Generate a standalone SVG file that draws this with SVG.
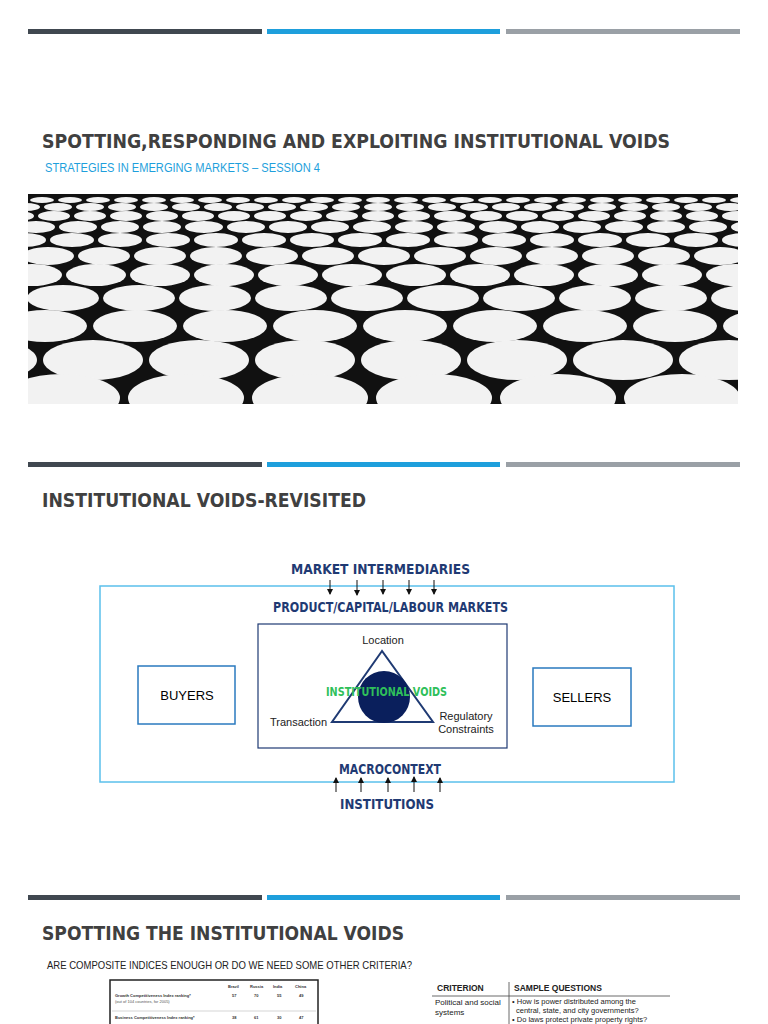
<svg xmlns="http://www.w3.org/2000/svg" width="768" height="1024" viewBox="0 0 768 1024">
<style>
.t{font-family:"Liberation Sans",Arial,sans-serif}
.h{font-family:"DejaVu Sans Condensed","Liberation Sans",sans-serif;font-weight:bold;fill:#404040;font-size:20px}
.nb{font-family:"DejaVu Sans Condensed","Liberation Sans",sans-serif;font-weight:bold;fill:#1f3a73;font-size:14px}
.sm{font-family:"Liberation Sans",Arial,sans-serif;font-size:11px;fill:#222}
.ar{stroke:#111;stroke-width:1;marker-end:url(#a)}
</style>
<defs>
<marker id="a" markerWidth="6" markerHeight="6" refX="5" refY="3" orient="auto"><path d="M0,0L6,3L0,6z" fill="#111"/></marker>
<pattern id="p1" patternUnits="userSpaceOnUse" x="0" y="196" width="28" height="10"><ellipse cx="14" cy="4" rx="12" ry="3" fill="#f2f2f2"/></pattern>
<pattern id="p2" patternUnits="userSpaceOnUse" x="10" y="202" width="32" height="12"><ellipse cx="16" cy="5" rx="14" ry="4" fill="#f2f2f2"/></pattern>
<pattern id="p3" patternUnits="userSpaceOnUse" x="0" y="210" width="36" height="14"><ellipse cx="18" cy="6" rx="16" ry="5" fill="#f2f2f2"/></pattern>
<pattern id="p4" patternUnits="userSpaceOnUse" x="15" y="220" width="42" height="16"><ellipse cx="21" cy="7" rx="19" ry="6" fill="#f2f2f2"/></pattern>
<pattern id="p5" patternUnits="userSpaceOnUse" x="0" y="232" width="48" height="18"><ellipse cx="24" cy="8" rx="22" ry="7" fill="#f2f2f2"/></pattern>
<pattern id="p6" patternUnits="userSpaceOnUse" x="20" y="246" width="56" height="22"><ellipse cx="28" cy="10" rx="26" ry="9" fill="#f2f2f2"/></pattern>
<pattern id="p7" patternUnits="userSpaceOnUse" x="0" y="263" width="64" height="26"><ellipse cx="32" cy="12" rx="30" ry="11" fill="#f2f2f2"/></pattern>
<pattern id="p8" patternUnits="userSpaceOnUse" x="25" y="284" width="76" height="30"><ellipse cx="38" cy="14" rx="36" ry="13" fill="#f2f2f2"/></pattern>
<pattern id="p9" patternUnits="userSpaceOnUse" x="0" y="309" width="90" height="36"><ellipse cx="45" cy="17" rx="42" ry="16" fill="#f2f2f2"/></pattern>
<pattern id="p10" patternUnits="userSpaceOnUse" x="40" y="339" width="106" height="44"><ellipse cx="53" cy="21" rx="50" ry="20" fill="#f2f2f2"/></pattern>
<pattern id="p11" patternUnits="userSpaceOnUse" x="0" y="373" width="124" height="52"><ellipse cx="62" cy="25" rx="58" ry="24" fill="#f2f2f2"/></pattern>
<clipPath id="c"><rect x="28" y="194" width="710" height="210"/></clipPath>
</defs>
<rect width="768" height="1024" fill="#fff"/>
<g id="bars1"><rect x="28" y="29" width="234" height="5" fill="#404850"/><rect x="267" y="29" width="233" height="5" fill="#1e9fdc"/><rect x="506" y="29" width="234" height="5" fill="#9aa0a6"/></g>
<text class="h" x="42" y="148" textLength="628" lengthAdjust="spacingAndGlyphs">SPOTTING,RESPONDING AND EXPLOITING INSTITUTIONAL VOIDS</text>
<text class="t" x="45" y="172" font-size="12" fill="#1e9fdc" textLength="275" lengthAdjust="spacingAndGlyphs">STRATEGIES IN EMERGING MARKETS – SESSION 4</text>
<g id="photo" clip-path="url(#c)">
<rect x="28" y="194" width="710" height="210" fill="#111"/>
<rect x="28" y="196" width="710" height="10" fill="url(#p1)"/>
<rect x="28" y="202" width="710" height="12" fill="url(#p2)"/>
<rect x="28" y="210" width="710" height="14" fill="url(#p3)"/>
<rect x="28" y="220" width="710" height="16" fill="url(#p4)"/>
<rect x="28" y="232" width="710" height="18" fill="url(#p5)"/>
<rect x="28" y="246" width="710" height="22" fill="url(#p6)"/>
<rect x="28" y="263" width="710" height="26" fill="url(#p7)"/>
<rect x="28" y="284" width="710" height="30" fill="url(#p8)"/>
<rect x="28" y="309" width="710" height="36" fill="url(#p9)"/>
<rect x="28" y="339" width="710" height="44" fill="url(#p10)"/>
<rect x="28" y="373" width="710" height="52" fill="url(#p11)"/>
</g>
<g id="bars2"><rect x="28" y="462" width="234" height="5" fill="#404850"/><rect x="267" y="462" width="233" height="5" fill="#1e9fdc"/><rect x="506" y="462" width="234" height="5" fill="#9aa0a6"/></g>
<text class="h" x="42" y="507" textLength="324" lengthAdjust="spacingAndGlyphs">INSTITUTIONAL VOIDS-REVISITED</text>
<g id="outer"><rect x="100" y="586" width="574" height="196" fill="none" stroke="#5bc0eb" stroke-width="1.5"/></g>
<g id="mi"><text class="nb" x="291" y="574" textLength="179" lengthAdjust="spacingAndGlyphs">MARKET INTERMEDIARIES</text></g>
<g id="pm"><text class="nb" x="273" y="612" font-size="13" textLength="235" lengthAdjust="spacingAndGlyphs">PRODUCT/CAPITAL/LABOUR MARKETS</text></g>
<g id="buyers"><rect x="138" y="666" width="97" height="58" fill="none" stroke="#2a7abf" stroke-width="1.5"/><text class="t" x="187" y="700" text-anchor="middle" font-size="13">BUYERS</text></g>
<g id="sellers"><rect x="533" y="668" width="98" height="58" fill="none" stroke="#2a7abf" stroke-width="1.5"/><text class="t" x="582" y="702" text-anchor="middle" font-size="13">SELLERS</text></g>
<g id="center">
<rect x="258" y="624" width="249" height="124" fill="none" stroke="#1f3a73" stroke-width="1.2"/>
<text class="sm" x="383" y="644" text-anchor="middle">Location</text>
<polygon points="382,651 332,722 390,722 433,722" fill="none" stroke="#1f3a73" stroke-width="2"/>
<circle cx="384" cy="697" r="26" fill="#0a1f5c"/>
<text x="326" y="696" font-family="DejaVu Sans Condensed,sans-serif" font-weight="bold" font-size="11.5" fill="#2fbf5a" textLength="121" lengthAdjust="spacingAndGlyphs">INSTITUTIONAL VOIDS</text>
<text class="sm" x="270" y="726">Transaction</text>
<text class="sm" x="466" y="720" text-anchor="middle">Regulatory</text>
<text class="sm" x="466" y="733" text-anchor="middle">Constraints</text>
</g>
<g id="macro"><text class="nb" x="339" y="774" font-size="13" textLength="102" lengthAdjust="spacingAndGlyphs">MACROCONTEXT</text></g>
<g id="inst"><text class="nb" x="340" y="809" textLength="94" lengthAdjust="spacingAndGlyphs">INSTITUTIONS</text></g>
<g id="connectors">
<line class="ar" x1="330" y1="580" x2="330" y2="594"/>
<line class="ar" x1="357" y1="580" x2="357" y2="595"/>
<line class="ar" x1="383" y1="580" x2="383" y2="594"/>
<line class="ar" x1="409" y1="580" x2="409" y2="594"/>
<line class="ar" x1="434" y1="580" x2="434" y2="594"/>
<line class="ar" x1="336" y1="792" x2="336" y2="778"/>
<line class="ar" x1="361" y1="792" x2="361" y2="778"/>
<line class="ar" x1="388" y1="792" x2="388" y2="778"/>
<line class="ar" x1="414" y1="792" x2="414" y2="777"/>
<line class="ar" x1="440" y1="792" x2="440" y2="778"/>
</g>
<g id="bars3"><rect x="28" y="895" width="234" height="5" fill="#404850"/><rect x="267" y="895" width="233" height="5" fill="#1e9fdc"/><rect x="506" y="895" width="234" height="5" fill="#9aa0a6"/></g>
<text class="h" x="42" y="940" textLength="362" lengthAdjust="spacingAndGlyphs">SPOTTING THE INSTITUTIONAL VOIDS</text>
<text class="t" x="47" y="969" font-size="11" fill="#222" textLength="365" lengthAdjust="spacingAndGlyphs">ARE COMPOSITE INDICES ENOUGH OR DO WE NEED SOME OTHER CRITERIA?</text>
<g id="tbl1">
<rect x="110" y="980" width="208" height="50" fill="#fff" stroke="#222" stroke-width="1.5"/>
<line x1="112" y1="1011" x2="316" y2="1011" stroke="#bbb" stroke-width="0.6"/>
<g class="t" font-size="4" fill="#333" font-weight="bold">
<text x="228" y="988">Brazil</text><text x="250" y="988">Russia</text><text x="273" y="988">India</text><text x="295" y="988">China</text>
<text x="115" y="997">Growth Competitiveness Index ranking*</text><text x="232" y="997">57</text><text x="254" y="997">70</text><text x="277" y="997">55</text><text x="299" y="997">49</text>
<text x="115" y="1019">Business Competitiveness Index ranking*</text><text x="232" y="1019">38</text><text x="254" y="1019">61</text><text x="277" y="1019">30</text><text x="299" y="1019">47</text>
</g>
<text class="t" x="115" y="1003" font-size="4" fill="#555">(out of 104 countries, for 2005)</text>
</g>
<g id="tbl2">
<line x1="432" y1="996" x2="670" y2="996" stroke="#444" stroke-width="0.8"/>
<line x1="509" y1="982" x2="509" y2="1024" stroke="#444" stroke-width="0.8"/>
<g class="t" fill="#222">
<text x="437" y="991" font-weight="bold" font-size="8.5">CRITERION</text>
<text x="514" y="991" font-weight="bold" font-size="8.5">SAMPLE QUESTIONS</text>
<text x="435" y="1005" font-size="8">Political and social</text>
<text x="435" y="1015" font-size="8">systems</text>
<text x="512" y="1004" font-size="7.5">• How is power distributed among the</text>
<text x="516" y="1013" font-size="7.5">central, state, and city governments?</text>
<text x="512" y="1022" font-size="7.5">• Do laws protect private property rights?</text>
</g>
</g>
</svg>
